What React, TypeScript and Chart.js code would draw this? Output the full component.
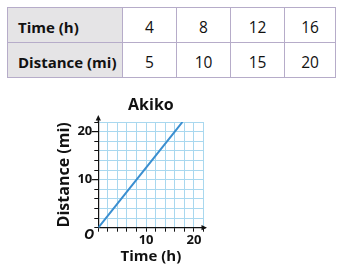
import React, { useEffect, useRef } from "react";
import { Chart, registerables } from "chart.js";

Chart.register(...registerables);

// Table data
const tableTimes = [4, 8, 12, 16];
const tableDistances = [5, 10, 15, 20];

// Graph data (line, ends at the top edge of the grid)
const lineTimes = [0, 4, 8, 12, 16, 17.6];
const lineDistances = [0, 5, 10, 15, 20, 22];
const labeledTicks = [10, 20];

const FONT = '"Open Sans", "DejaVu Sans", sans-serif';
const BORDER = "#b6acc9";

const arrowPlugin = {
  id: "axisArrows",
  afterDraw(chart: any) {
    const { ctx, chartArea, scales } = chart;
    const x0 = chartArea.left;
    const y0 = chartArea.bottom;
    ctx.save();
    ctx.strokeStyle = "#111";
    ctx.fillStyle = "#111";
    ctx.lineWidth = 1.2;
    // longer major ticks at labelled values
    labeledTicks.forEach((v) => {
      const py = scales.y.getPixelForValue(v);
      ctx.beginPath();
      ctx.moveTo(x0 - 6.5, py);
      ctx.lineTo(x0, py);
      ctx.stroke();
    });
    // y axis extension
    ctx.beginPath();
    ctx.moveTo(x0, chartArea.top);
    ctx.lineTo(x0, chartArea.top - 3);
    ctx.stroke();
    ctx.beginPath();
    ctx.moveTo(x0, chartArea.top - 7);
    ctx.lineTo(x0 - 2.6, chartArea.top - 1.5);
    ctx.lineTo(x0 + 2.6, chartArea.top - 1.5);
    ctx.closePath();
    ctx.fill();
    // x axis extension
    ctx.beginPath();
    ctx.moveTo(chartArea.right, y0);
    ctx.lineTo(chartArea.right + 2, y0);
    ctx.stroke();
    ctx.beginPath();
    ctx.moveTo(chartArea.right + 3.5, y0);
    ctx.lineTo(chartArea.right - 2, y0 - 2.6);
    ctx.lineTo(chartArea.right - 2, y0 + 2.6);
    ctx.closePath();
    ctx.fill();
    // origin label
    ctx.font = `italic bold 14px ${FONT}`;
    ctx.textAlign = "center";
    ctx.textBaseline = "middle";
    ctx.fillText("O", x0 - 9.3, y0 + 7.5);
    ctx.restore();
  },
};

function Graph() {
  const ref = useRef<HTMLCanvasElement | null>(null);
  useEffect(() => {
    if (!ref.current) return;
    const chart = new Chart(ref.current, {
      type: "scatter",
      data: {
        datasets: [
          {
            data: lineTimes.map((t, i) => ({ x: t, y: lineDistances[i] })),
            showLine: true,
            borderColor: "#3b8fd0",
            borderWidth: 2,
            pointRadius: 0,
            fill: false,
          },
        ],
      },
      options: {
        animation: false,
        responsive: false,
        maintainAspectRatio: false,
        layout: { padding: { left: 0, right: 11.5, top: 0, bottom: 4 } },
        plugins: {
          legend: { display: false },
          tooltip: { enabled: false },
          title: {
            display: true,
            text: "Akiko",
            fullSize: false,
            color: "#111",
            font: { family: FONT, size: 16, weight: "bold" },
            padding: { top: 3.4, bottom: 7.4 },
          },
        },
        scales: {
          x: {
            type: "linear",
            min: 0,
            max: 22,
            afterFit(scale: any) {
              scale.height = 38.3;
            },
            border: { display: true, color: "#111", width: 1.2 },
            grid: {
              color: "#a9d8ef",
              lineWidth: 1,
              drawTicks: true,
              tickLength: 4,
              tickColor: "#111",
            },
            ticks: {
              stepSize: 2,
              autoSkip: false,
              maxRotation: 0,
              padding: 1,
              color: "#111",
              font: { family: FONT, size: 13, weight: "bold" },
              callback: (v: any) => (labeledTicks.includes(Number(v)) ? String(v) : ""),
            },
            title: {
              display: true,
              text: "Time (h)",
              color: "#111",
              font: { family: FONT, size: 15, weight: "bold" },
              padding: { top: 0, bottom: 0 },
            },
          },
          y: {
            type: "linear",
            min: 0,
            max: 22,
            afterFit(scale: any) {
              scale.width = 48.3;
            },
            border: { display: true, color: "#111", width: 1.2 },
            grid: {
              color: "#a9d8ef",
              lineWidth: 1,
              drawTicks: true,
              tickLength: 4,
              tickColor: "#111",
            },
            ticks: {
              stepSize: 2,
              autoSkip: false,
              padding: 2,
              color: "#111",
              font: { family: FONT, size: 13, weight: "bold" },
              callback: (v: any) => (labeledTicks.includes(Number(v)) ? String(v) : ""),
            },
            title: {
              display: true,
              text: "Distance (mi)",
              color: "#111",
              font: { family: FONT, size: 16, weight: "bold" },
              padding: { top: 4.4, bottom: 0 },
            },
          },
        },
      },
      plugins: [arrowPlugin],
    } as any);
    return () => chart.destroy();
  }, []);
  return (
    <canvas
      ref={ref}
      width={165}
      height={178}
      style={{ position: "absolute", left: 50, top: 92, width: 165, height: 178 }}
    />
  );
}

function DataTable() {
  const colWidths = [115, 54, 54, 54, 51];
  const rowH = 35;
  const cell = (w: number, header: boolean, content: string, key: string) => (
    <td
      key={key}
      style={{
        width: w,
        height: rowH,
        padding: 0,
        border: `1.5px solid ${BORDER}`,
        background: header ? "#e5e4e6" : "#fff",
        textAlign: header ? "left" : "center",
        paddingLeft: header ? 10 : 0,
        fontFamily: FONT,
        fontWeight: header ? 700 : 400,
        fontSize: header ? 15 : 15.5,
        color: "#111",
        boxSizing: "border-box",
        verticalAlign: "middle",
        lineHeight: "18px",
        paddingTop: 3,
      }}
    >
      {content}
    </td>
  );
  return (
    <table
      style={{
        position: "absolute",
        left: 7,
        top: 7,
        borderCollapse: "collapse",
        tableLayout: "fixed",
        width: 328,
      }}
    >
      <tbody>
        <tr>
          {cell(colWidths[0], true, "Time (h)", "h0")}
          {tableTimes.map((t, i) => cell(colWidths[i + 1], false, String(t), "t" + i))}
        </tr>
        <tr>
          {cell(colWidths[0], true, "Distance (mi)", "h1")}
          {tableDistances.map((d, i) => cell(colWidths[i + 1], false, String(d), "d" + i))}
        </tr>
      </tbody>
    </table>
  );
}

export default function App() {
  return (
    <div
      style={{
        position: "fixed",
        left: 0,
        top: 0,
        width: 345,
        height: 273,
        background: "#fff",
        overflow: "hidden",
      }}
    >
      <DataTable />
      <Graph />
    </div>
  );
}
